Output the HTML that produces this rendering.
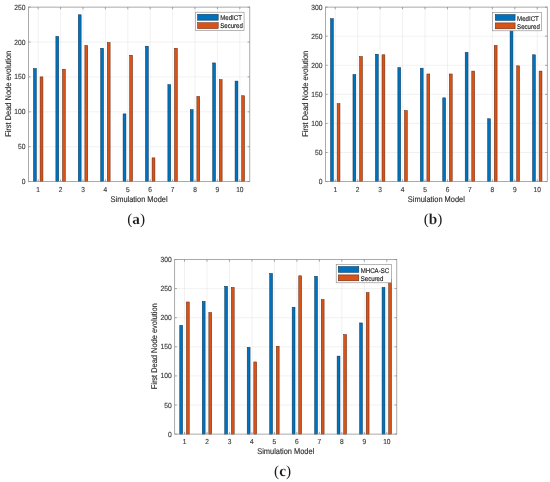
<!DOCTYPE html>
<html lang="en">
<head>
<meta charset="utf-8">
<title>First Dead Node evolution</title>
<style>
html,body{margin:0;padding:0;background:#fff;}
body{width:550px;height:482px;overflow:hidden;}
svg{display:block;font-family:"Liberation Sans", Arial, Helvetica, sans-serif;text-rendering:geometricPrecision;}
</style>
</head>
<body>
<svg width="550" height="482" viewBox="0 0 550 482">
<rect width="550" height="482" fill="#fff"/>
<g stroke="#e7e7e7" stroke-width="0.6"><line x1="38.2" y1="7.1" x2="38.2" y2="181.6"/><line x1="60.6" y1="7.1" x2="60.6" y2="181.6"/><line x1="83" y1="7.1" x2="83" y2="181.6"/><line x1="105.4" y1="7.1" x2="105.4" y2="181.6"/><line x1="127.8" y1="7.1" x2="127.8" y2="181.6"/><line x1="150.2" y1="7.1" x2="150.2" y2="181.6"/><line x1="172.6" y1="7.1" x2="172.6" y2="181.6"/><line x1="195" y1="7.1" x2="195" y2="181.6"/><line x1="217.4" y1="7.1" x2="217.4" y2="181.6"/><line x1="239.8" y1="7.1" x2="239.8" y2="181.6"/><line x1="28.4" y1="146.7" x2="249.8" y2="146.7"/><line x1="28.4" y1="111.8" x2="249.8" y2="111.8"/><line x1="28.4" y1="76.9" x2="249.8" y2="76.9"/><line x1="28.4" y1="42" x2="249.8" y2="42"/></g>
<g fill="#0072BD" stroke="#083050" stroke-width="0.5"><rect x="33.48" y="68.52" width="2.85" height="113.08"/><rect x="55.88" y="36.42" width="2.85" height="145.18"/><rect x="78.28" y="14.78" width="2.85" height="166.82"/><rect x="100.67" y="48.28" width="2.85" height="133.32"/><rect x="123.08" y="113.89" width="2.85" height="67.71"/><rect x="145.47" y="46.19" width="2.85" height="135.41"/><rect x="167.87" y="84.58" width="2.85" height="97.02"/><rect x="190.27" y="109.71" width="2.85" height="71.89"/><rect x="212.67" y="62.94" width="2.85" height="118.66"/><rect x="235.07" y="81.09" width="2.85" height="100.51"/></g>
<g fill="#D95319" stroke="#5c230a" stroke-width="0.5"><rect x="40.08" y="76.9" width="2.85" height="104.7"/><rect x="62.48" y="69.22" width="2.85" height="112.38"/><rect x="84.88" y="45.49" width="2.85" height="136.11"/><rect x="107.27" y="42.7" width="2.85" height="138.9"/><rect x="129.67" y="55.26" width="2.85" height="126.34"/><rect x="152.07" y="157.87" width="2.85" height="23.73"/><rect x="174.47" y="48.28" width="2.85" height="133.32"/><rect x="196.88" y="96.44" width="2.85" height="85.16"/><rect x="219.27" y="79.69" width="2.85" height="101.91"/><rect x="241.68" y="95.75" width="2.85" height="85.85"/></g>
<g stroke="#707070" stroke-width="0.6"><line x1="38.2" y1="181.6" x2="38.2" y2="179.4"/><line x1="38.2" y1="7.1" x2="38.2" y2="9.3"/><line x1="60.6" y1="181.6" x2="60.6" y2="179.4"/><line x1="60.6" y1="7.1" x2="60.6" y2="9.3"/><line x1="83" y1="181.6" x2="83" y2="179.4"/><line x1="83" y1="7.1" x2="83" y2="9.3"/><line x1="105.4" y1="181.6" x2="105.4" y2="179.4"/><line x1="105.4" y1="7.1" x2="105.4" y2="9.3"/><line x1="127.8" y1="181.6" x2="127.8" y2="179.4"/><line x1="127.8" y1="7.1" x2="127.8" y2="9.3"/><line x1="150.2" y1="181.6" x2="150.2" y2="179.4"/><line x1="150.2" y1="7.1" x2="150.2" y2="9.3"/><line x1="172.6" y1="181.6" x2="172.6" y2="179.4"/><line x1="172.6" y1="7.1" x2="172.6" y2="9.3"/><line x1="195" y1="181.6" x2="195" y2="179.4"/><line x1="195" y1="7.1" x2="195" y2="9.3"/><line x1="217.4" y1="181.6" x2="217.4" y2="179.4"/><line x1="217.4" y1="7.1" x2="217.4" y2="9.3"/><line x1="239.8" y1="181.6" x2="239.8" y2="179.4"/><line x1="239.8" y1="7.1" x2="239.8" y2="9.3"/><line x1="28.4" y1="181.6" x2="30.6" y2="181.6"/><line x1="249.8" y1="181.6" x2="247.6" y2="181.6"/><line x1="28.4" y1="146.7" x2="30.6" y2="146.7"/><line x1="249.8" y1="146.7" x2="247.6" y2="146.7"/><line x1="28.4" y1="111.8" x2="30.6" y2="111.8"/><line x1="249.8" y1="111.8" x2="247.6" y2="111.8"/><line x1="28.4" y1="76.9" x2="30.6" y2="76.9"/><line x1="249.8" y1="76.9" x2="247.6" y2="76.9"/><line x1="28.4" y1="42" x2="30.6" y2="42"/><line x1="249.8" y1="42" x2="247.6" y2="42"/><line x1="28.4" y1="7.1" x2="30.6" y2="7.1"/><line x1="249.8" y1="7.1" x2="247.6" y2="7.1"/></g><g stroke="#868686" stroke-width="0.7"><rect x="28.4" y="7.1" width="221.4" height="174.5" fill="none"/></g>
<text transform="translate(38.2 191.6) scale(0.9 1)" text-anchor="middle" font-size="7.33" fill="#3a3a3a" stroke="#3a3a3a" stroke-width="0.15">1</text><text transform="translate(60.6 191.6) scale(0.9 1)" text-anchor="middle" font-size="7.33" fill="#3a3a3a" stroke="#3a3a3a" stroke-width="0.15">2</text><text transform="translate(83 191.6) scale(0.9 1)" text-anchor="middle" font-size="7.33" fill="#3a3a3a" stroke="#3a3a3a" stroke-width="0.15">3</text><text transform="translate(105.4 191.6) scale(0.9 1)" text-anchor="middle" font-size="7.33" fill="#3a3a3a" stroke="#3a3a3a" stroke-width="0.15">4</text><text transform="translate(127.8 191.6) scale(0.9 1)" text-anchor="middle" font-size="7.33" fill="#3a3a3a" stroke="#3a3a3a" stroke-width="0.15">5</text><text transform="translate(150.2 191.6) scale(0.9 1)" text-anchor="middle" font-size="7.33" fill="#3a3a3a" stroke="#3a3a3a" stroke-width="0.15">6</text><text transform="translate(172.6 191.6) scale(0.9 1)" text-anchor="middle" font-size="7.33" fill="#3a3a3a" stroke="#3a3a3a" stroke-width="0.15">7</text><text transform="translate(195 191.6) scale(0.9 1)" text-anchor="middle" font-size="7.33" fill="#3a3a3a" stroke="#3a3a3a" stroke-width="0.15">8</text><text transform="translate(217.4 191.6) scale(0.9 1)" text-anchor="middle" font-size="7.33" fill="#3a3a3a" stroke="#3a3a3a" stroke-width="0.15">9</text><text transform="translate(239.8 191.6) scale(0.9 1)" text-anchor="middle" font-size="7.33" fill="#3a3a3a" stroke="#3a3a3a" stroke-width="0.15">10</text><text transform="translate(25.4 184.15) scale(0.9 1)" text-anchor="end" font-size="7.44" fill="#3a3a3a" stroke="#3a3a3a" stroke-width="0.15">0</text><text transform="translate(25.4 149.25) scale(0.9 1)" text-anchor="end" font-size="7.44" fill="#3a3a3a" stroke="#3a3a3a" stroke-width="0.15">50</text><text transform="translate(25.4 114.35) scale(0.9 1)" text-anchor="end" font-size="7.44" fill="#3a3a3a" stroke="#3a3a3a" stroke-width="0.15">100</text><text transform="translate(25.4 79.45) scale(0.9 1)" text-anchor="end" font-size="7.44" fill="#3a3a3a" stroke="#3a3a3a" stroke-width="0.15">150</text><text transform="translate(25.4 44.55) scale(0.9 1)" text-anchor="end" font-size="7.44" fill="#3a3a3a" stroke="#3a3a3a" stroke-width="0.15">200</text><text transform="translate(25.4 9.65) scale(0.9 1)" text-anchor="end" font-size="7.44" fill="#3a3a3a" stroke="#3a3a3a" stroke-width="0.15">250</text>
<text transform="translate(139.1 201.7) scale(0.9 1)" text-anchor="middle" font-size="8.28" fill="#2e2e2e" stroke="#2e2e2e" stroke-width="0.15">Simulation Model</text>
<text transform="translate(10.7 93.85) rotate(-90) scale(0.9 1)" text-anchor="middle" font-size="8.28" fill="#2e2e2e" stroke="#2e2e2e" stroke-width="0.15">First Dead Node evolution</text>
<rect x="195.45" y="12.2" width="48.6" height="18.4" fill="#fff" stroke="#868686" stroke-width="0.6"/>
<rect x="197.6" y="14.3" width="20.6" height="5.9" fill="#0072BD" stroke="#0a2c47" stroke-width="0.5"/>
<rect x="197.6" y="22.7" width="20.6" height="5.9" fill="#D95319" stroke="#55200a" stroke-width="0.5"/>
<text transform="translate(220.2 20.3) scale(0.9 1)" font-size="6.78" fill="#222" stroke="#222" stroke-width="0.15">MedICT</text>
<text transform="translate(220.2 28.3) scale(0.9 1)" font-size="6.78" fill="#222" stroke="#222" stroke-width="0.15">Secured</text>
<text x="136.1" y="223.6" text-anchor="middle" font-family='"Liberation Serif", "Times New Roman", serif' font-size="15.3" fill="#1a1a1a">(<tspan font-weight="bold" stroke="#fff" stroke-width="0.14">a</tspan>)</text>
<g stroke="#e7e7e7" stroke-width="0.6"><line x1="335.25" y1="7.1" x2="335.25" y2="181.6"/><line x1="357.69" y1="7.1" x2="357.69" y2="181.6"/><line x1="380.14" y1="7.1" x2="380.14" y2="181.6"/><line x1="402.58" y1="7.1" x2="402.58" y2="181.6"/><line x1="425.03" y1="7.1" x2="425.03" y2="181.6"/><line x1="447.47" y1="7.1" x2="447.47" y2="181.6"/><line x1="469.92" y1="7.1" x2="469.92" y2="181.6"/><line x1="492.36" y1="7.1" x2="492.36" y2="181.6"/><line x1="514.81" y1="7.1" x2="514.81" y2="181.6"/><line x1="537.25" y1="7.1" x2="537.25" y2="181.6"/><line x1="325.45" y1="152.52" x2="547.25" y2="152.52"/><line x1="325.45" y1="123.43" x2="547.25" y2="123.43"/><line x1="325.45" y1="94.35" x2="547.25" y2="94.35"/><line x1="325.45" y1="65.27" x2="547.25" y2="65.27"/><line x1="325.45" y1="36.18" x2="547.25" y2="36.18"/></g>
<g fill="#0072BD" stroke="#083050" stroke-width="0.5"><rect x="330.52" y="18.73" width="2.85" height="162.87"/><rect x="352.97" y="74.57" width="2.85" height="107.03"/><rect x="375.41" y="54.22" width="2.85" height="127.38"/><rect x="397.86" y="67.59" width="2.85" height="114.01"/><rect x="420.3" y="68.17" width="2.85" height="113.42"/><rect x="442.75" y="97.84" width="2.85" height="83.76"/><rect x="465.19" y="52.47" width="2.85" height="129.13"/><rect x="487.64" y="118.78" width="2.85" height="62.82"/><rect x="510.08" y="29.2" width="2.85" height="152.4"/><rect x="532.53" y="54.8" width="2.85" height="126.8"/></g>
<g fill="#D95319" stroke="#5c230a" stroke-width="0.5"><rect x="337.12" y="103.66" width="2.85" height="77.94"/><rect x="359.57" y="56.54" width="2.85" height="125.06"/><rect x="382.01" y="54.8" width="2.85" height="126.8"/><rect x="404.46" y="110.64" width="2.85" height="70.96"/><rect x="426.9" y="73.99" width="2.85" height="107.61"/><rect x="449.35" y="73.99" width="2.85" height="107.61"/><rect x="471.79" y="71.08" width="2.85" height="110.52"/><rect x="494.24" y="45.49" width="2.85" height="136.11"/><rect x="516.68" y="65.85" width="2.85" height="115.75"/><rect x="539.12" y="71.08" width="2.85" height="110.52"/></g>
<g stroke="#707070" stroke-width="0.6"><line x1="335.25" y1="181.6" x2="335.25" y2="179.4"/><line x1="335.25" y1="7.1" x2="335.25" y2="9.3"/><line x1="357.69" y1="181.6" x2="357.69" y2="179.4"/><line x1="357.69" y1="7.1" x2="357.69" y2="9.3"/><line x1="380.14" y1="181.6" x2="380.14" y2="179.4"/><line x1="380.14" y1="7.1" x2="380.14" y2="9.3"/><line x1="402.58" y1="181.6" x2="402.58" y2="179.4"/><line x1="402.58" y1="7.1" x2="402.58" y2="9.3"/><line x1="425.03" y1="181.6" x2="425.03" y2="179.4"/><line x1="425.03" y1="7.1" x2="425.03" y2="9.3"/><line x1="447.47" y1="181.6" x2="447.47" y2="179.4"/><line x1="447.47" y1="7.1" x2="447.47" y2="9.3"/><line x1="469.92" y1="181.6" x2="469.92" y2="179.4"/><line x1="469.92" y1="7.1" x2="469.92" y2="9.3"/><line x1="492.36" y1="181.6" x2="492.36" y2="179.4"/><line x1="492.36" y1="7.1" x2="492.36" y2="9.3"/><line x1="514.81" y1="181.6" x2="514.81" y2="179.4"/><line x1="514.81" y1="7.1" x2="514.81" y2="9.3"/><line x1="537.25" y1="181.6" x2="537.25" y2="179.4"/><line x1="537.25" y1="7.1" x2="537.25" y2="9.3"/><line x1="325.45" y1="181.6" x2="327.65" y2="181.6"/><line x1="547.25" y1="181.6" x2="545.05" y2="181.6"/><line x1="325.45" y1="152.52" x2="327.65" y2="152.52"/><line x1="547.25" y1="152.52" x2="545.05" y2="152.52"/><line x1="325.45" y1="123.43" x2="327.65" y2="123.43"/><line x1="547.25" y1="123.43" x2="545.05" y2="123.43"/><line x1="325.45" y1="94.35" x2="327.65" y2="94.35"/><line x1="547.25" y1="94.35" x2="545.05" y2="94.35"/><line x1="325.45" y1="65.27" x2="327.65" y2="65.27"/><line x1="547.25" y1="65.27" x2="545.05" y2="65.27"/><line x1="325.45" y1="36.18" x2="327.65" y2="36.18"/><line x1="547.25" y1="36.18" x2="545.05" y2="36.18"/><line x1="325.45" y1="7.1" x2="327.65" y2="7.1"/><line x1="547.25" y1="7.1" x2="545.05" y2="7.1"/></g><g stroke="#868686" stroke-width="0.7"><rect x="325.45" y="7.1" width="221.8" height="174.5" fill="none"/></g>
<text transform="translate(335.25 191.6) scale(0.9 1)" text-anchor="middle" font-size="7.33" fill="#3a3a3a" stroke="#3a3a3a" stroke-width="0.15">1</text><text transform="translate(357.69 191.6) scale(0.9 1)" text-anchor="middle" font-size="7.33" fill="#3a3a3a" stroke="#3a3a3a" stroke-width="0.15">2</text><text transform="translate(380.14 191.6) scale(0.9 1)" text-anchor="middle" font-size="7.33" fill="#3a3a3a" stroke="#3a3a3a" stroke-width="0.15">3</text><text transform="translate(402.58 191.6) scale(0.9 1)" text-anchor="middle" font-size="7.33" fill="#3a3a3a" stroke="#3a3a3a" stroke-width="0.15">4</text><text transform="translate(425.03 191.6) scale(0.9 1)" text-anchor="middle" font-size="7.33" fill="#3a3a3a" stroke="#3a3a3a" stroke-width="0.15">5</text><text transform="translate(447.47 191.6) scale(0.9 1)" text-anchor="middle" font-size="7.33" fill="#3a3a3a" stroke="#3a3a3a" stroke-width="0.15">6</text><text transform="translate(469.92 191.6) scale(0.9 1)" text-anchor="middle" font-size="7.33" fill="#3a3a3a" stroke="#3a3a3a" stroke-width="0.15">7</text><text transform="translate(492.36 191.6) scale(0.9 1)" text-anchor="middle" font-size="7.33" fill="#3a3a3a" stroke="#3a3a3a" stroke-width="0.15">8</text><text transform="translate(514.81 191.6) scale(0.9 1)" text-anchor="middle" font-size="7.33" fill="#3a3a3a" stroke="#3a3a3a" stroke-width="0.15">9</text><text transform="translate(537.25 191.6) scale(0.9 1)" text-anchor="middle" font-size="7.33" fill="#3a3a3a" stroke="#3a3a3a" stroke-width="0.15">10</text><text transform="translate(322.45 184.15) scale(0.9 1)" text-anchor="end" font-size="7.44" fill="#3a3a3a" stroke="#3a3a3a" stroke-width="0.15">0</text><text transform="translate(322.45 155.07) scale(0.9 1)" text-anchor="end" font-size="7.44" fill="#3a3a3a" stroke="#3a3a3a" stroke-width="0.15">50</text><text transform="translate(322.45 125.98) scale(0.9 1)" text-anchor="end" font-size="7.44" fill="#3a3a3a" stroke="#3a3a3a" stroke-width="0.15">100</text><text transform="translate(322.45 96.9) scale(0.9 1)" text-anchor="end" font-size="7.44" fill="#3a3a3a" stroke="#3a3a3a" stroke-width="0.15">150</text><text transform="translate(322.45 67.82) scale(0.9 1)" text-anchor="end" font-size="7.44" fill="#3a3a3a" stroke="#3a3a3a" stroke-width="0.15">200</text><text transform="translate(322.45 38.73) scale(0.9 1)" text-anchor="end" font-size="7.44" fill="#3a3a3a" stroke="#3a3a3a" stroke-width="0.15">250</text><text transform="translate(322.45 9.65) scale(0.9 1)" text-anchor="end" font-size="7.44" fill="#3a3a3a" stroke="#3a3a3a" stroke-width="0.15">300</text>
<text transform="translate(436.35 201.7) scale(0.9 1)" text-anchor="middle" font-size="8.28" fill="#2e2e2e" stroke="#2e2e2e" stroke-width="0.15">Simulation Model</text>
<text transform="translate(307.7 93.85) rotate(-90) scale(0.9 1)" text-anchor="middle" font-size="8.28" fill="#2e2e2e" stroke="#2e2e2e" stroke-width="0.15">First Dead Node evolution</text>
<rect x="492.3" y="12.4" width="49.1" height="18.4" fill="#fff" stroke="#868686" stroke-width="0.6"/>
<rect x="495.3" y="14.5" width="19.8" height="5.9" fill="#0072BD" stroke="#0a2c47" stroke-width="0.5"/>
<rect x="495.3" y="22.9" width="19.8" height="5.9" fill="#D95319" stroke="#55200a" stroke-width="0.5"/>
<text transform="translate(517.1 20.5) scale(0.9 1)" font-size="6.78" fill="#222" stroke="#222" stroke-width="0.15">MedICT</text>
<text transform="translate(517.1 28.5) scale(0.9 1)" font-size="6.78" fill="#222" stroke="#222" stroke-width="0.15">Secured</text>
<text x="433" y="223.6" text-anchor="middle" font-family='"Liberation Serif", "Times New Roman", serif' font-size="15.3" fill="#1a1a1a">(<tspan font-weight="bold" stroke="#fff" stroke-width="0.14">b</tspan>)</text>
<g stroke="#e7e7e7" stroke-width="0.6"><line x1="184.5" y1="259.5" x2="184.5" y2="434.1"/><line x1="206.98" y1="259.5" x2="206.98" y2="434.1"/><line x1="229.46" y1="259.5" x2="229.46" y2="434.1"/><line x1="251.93" y1="259.5" x2="251.93" y2="434.1"/><line x1="274.41" y1="259.5" x2="274.41" y2="434.1"/><line x1="296.89" y1="259.5" x2="296.89" y2="434.1"/><line x1="319.37" y1="259.5" x2="319.37" y2="434.1"/><line x1="341.84" y1="259.5" x2="341.84" y2="434.1"/><line x1="364.32" y1="259.5" x2="364.32" y2="434.1"/><line x1="386.8" y1="259.5" x2="386.8" y2="434.1"/><line x1="174.7" y1="405" x2="396.8" y2="405"/><line x1="174.7" y1="375.9" x2="396.8" y2="375.9"/><line x1="174.7" y1="346.8" x2="396.8" y2="346.8"/><line x1="174.7" y1="317.7" x2="396.8" y2="317.7"/><line x1="174.7" y1="288.6" x2="396.8" y2="288.6"/></g>
<g fill="#0072BD" stroke="#083050" stroke-width="0.5"><rect x="179.77" y="325.27" width="2.85" height="108.83"/><rect x="202.25" y="301.4" width="2.85" height="132.7"/><rect x="224.73" y="286.27" width="2.85" height="147.83"/><rect x="247.21" y="347.38" width="2.85" height="86.72"/><rect x="269.69" y="273.47" width="2.85" height="160.63"/><rect x="292.16" y="307.22" width="2.85" height="126.88"/><rect x="314.64" y="276.38" width="2.85" height="157.72"/><rect x="337.12" y="356.11" width="2.85" height="77.99"/><rect x="359.6" y="322.94" width="2.85" height="111.16"/><rect x="382.07" y="287.44" width="2.85" height="146.66"/></g>
<g fill="#D95319" stroke="#5c230a" stroke-width="0.5"><rect x="186.38" y="301.99" width="2.85" height="132.11"/><rect x="208.85" y="312.46" width="2.85" height="121.64"/><rect x="231.33" y="287.44" width="2.85" height="146.66"/><rect x="253.81" y="361.93" width="2.85" height="72.17"/><rect x="276.29" y="346.22" width="2.85" height="87.88"/><rect x="298.76" y="275.8" width="2.85" height="158.3"/><rect x="321.24" y="299.66" width="2.85" height="134.44"/><rect x="343.72" y="334.58" width="2.85" height="99.52"/><rect x="366.2" y="292.67" width="2.85" height="141.43"/><rect x="388.67" y="279.29" width="2.85" height="154.81"/></g>
<g stroke="#707070" stroke-width="0.6"><line x1="184.5" y1="434.1" x2="184.5" y2="431.9"/><line x1="184.5" y1="259.5" x2="184.5" y2="261.7"/><line x1="206.98" y1="434.1" x2="206.98" y2="431.9"/><line x1="206.98" y1="259.5" x2="206.98" y2="261.7"/><line x1="229.46" y1="434.1" x2="229.46" y2="431.9"/><line x1="229.46" y1="259.5" x2="229.46" y2="261.7"/><line x1="251.93" y1="434.1" x2="251.93" y2="431.9"/><line x1="251.93" y1="259.5" x2="251.93" y2="261.7"/><line x1="274.41" y1="434.1" x2="274.41" y2="431.9"/><line x1="274.41" y1="259.5" x2="274.41" y2="261.7"/><line x1="296.89" y1="434.1" x2="296.89" y2="431.9"/><line x1="296.89" y1="259.5" x2="296.89" y2="261.7"/><line x1="319.37" y1="434.1" x2="319.37" y2="431.9"/><line x1="319.37" y1="259.5" x2="319.37" y2="261.7"/><line x1="341.84" y1="434.1" x2="341.84" y2="431.9"/><line x1="341.84" y1="259.5" x2="341.84" y2="261.7"/><line x1="364.32" y1="434.1" x2="364.32" y2="431.9"/><line x1="364.32" y1="259.5" x2="364.32" y2="261.7"/><line x1="386.8" y1="434.1" x2="386.8" y2="431.9"/><line x1="386.8" y1="259.5" x2="386.8" y2="261.7"/><line x1="174.7" y1="434.1" x2="176.9" y2="434.1"/><line x1="396.8" y1="434.1" x2="394.6" y2="434.1"/><line x1="174.7" y1="405" x2="176.9" y2="405"/><line x1="396.8" y1="405" x2="394.6" y2="405"/><line x1="174.7" y1="375.9" x2="176.9" y2="375.9"/><line x1="396.8" y1="375.9" x2="394.6" y2="375.9"/><line x1="174.7" y1="346.8" x2="176.9" y2="346.8"/><line x1="396.8" y1="346.8" x2="394.6" y2="346.8"/><line x1="174.7" y1="317.7" x2="176.9" y2="317.7"/><line x1="396.8" y1="317.7" x2="394.6" y2="317.7"/><line x1="174.7" y1="288.6" x2="176.9" y2="288.6"/><line x1="396.8" y1="288.6" x2="394.6" y2="288.6"/><line x1="174.7" y1="259.5" x2="176.9" y2="259.5"/><line x1="396.8" y1="259.5" x2="394.6" y2="259.5"/></g><g stroke="#868686" stroke-width="0.7"><rect x="174.7" y="259.5" width="222.1" height="174.6" fill="none"/></g>
<text transform="translate(184.5 444.1) scale(0.9 1)" text-anchor="middle" font-size="7.33" fill="#3a3a3a" stroke="#3a3a3a" stroke-width="0.15">1</text><text transform="translate(206.98 444.1) scale(0.9 1)" text-anchor="middle" font-size="7.33" fill="#3a3a3a" stroke="#3a3a3a" stroke-width="0.15">2</text><text transform="translate(229.46 444.1) scale(0.9 1)" text-anchor="middle" font-size="7.33" fill="#3a3a3a" stroke="#3a3a3a" stroke-width="0.15">3</text><text transform="translate(251.93 444.1) scale(0.9 1)" text-anchor="middle" font-size="7.33" fill="#3a3a3a" stroke="#3a3a3a" stroke-width="0.15">4</text><text transform="translate(274.41 444.1) scale(0.9 1)" text-anchor="middle" font-size="7.33" fill="#3a3a3a" stroke="#3a3a3a" stroke-width="0.15">5</text><text transform="translate(296.89 444.1) scale(0.9 1)" text-anchor="middle" font-size="7.33" fill="#3a3a3a" stroke="#3a3a3a" stroke-width="0.15">6</text><text transform="translate(319.37 444.1) scale(0.9 1)" text-anchor="middle" font-size="7.33" fill="#3a3a3a" stroke="#3a3a3a" stroke-width="0.15">7</text><text transform="translate(341.84 444.1) scale(0.9 1)" text-anchor="middle" font-size="7.33" fill="#3a3a3a" stroke="#3a3a3a" stroke-width="0.15">8</text><text transform="translate(364.32 444.1) scale(0.9 1)" text-anchor="middle" font-size="7.33" fill="#3a3a3a" stroke="#3a3a3a" stroke-width="0.15">9</text><text transform="translate(386.8 444.1) scale(0.9 1)" text-anchor="middle" font-size="7.33" fill="#3a3a3a" stroke="#3a3a3a" stroke-width="0.15">10</text><text transform="translate(171.7 436.65) scale(0.9 1)" text-anchor="end" font-size="7.44" fill="#3a3a3a" stroke="#3a3a3a" stroke-width="0.15">0</text><text transform="translate(171.7 407.55) scale(0.9 1)" text-anchor="end" font-size="7.44" fill="#3a3a3a" stroke="#3a3a3a" stroke-width="0.15">50</text><text transform="translate(171.7 378.45) scale(0.9 1)" text-anchor="end" font-size="7.44" fill="#3a3a3a" stroke="#3a3a3a" stroke-width="0.15">100</text><text transform="translate(171.7 349.35) scale(0.9 1)" text-anchor="end" font-size="7.44" fill="#3a3a3a" stroke="#3a3a3a" stroke-width="0.15">150</text><text transform="translate(171.7 320.25) scale(0.9 1)" text-anchor="end" font-size="7.44" fill="#3a3a3a" stroke="#3a3a3a" stroke-width="0.15">200</text><text transform="translate(171.7 291.15) scale(0.9 1)" text-anchor="end" font-size="7.44" fill="#3a3a3a" stroke="#3a3a3a" stroke-width="0.15">250</text><text transform="translate(171.7 262.05) scale(0.9 1)" text-anchor="end" font-size="7.44" fill="#3a3a3a" stroke="#3a3a3a" stroke-width="0.15">300</text>
<text transform="translate(285.75 454.1) scale(0.9 1)" text-anchor="middle" font-size="8.28" fill="#2e2e2e" stroke="#2e2e2e" stroke-width="0.15">Simulation Model</text>
<text transform="translate(157.1 346.3) rotate(-90) scale(0.9 1)" text-anchor="middle" font-size="8.28" fill="#2e2e2e" stroke="#2e2e2e" stroke-width="0.15">First Dead Node evolution</text>
<rect x="336.2" y="264.4" width="55.2" height="18.4" fill="#fff" stroke="#868686" stroke-width="0.6"/>
<rect x="338.3" y="266.5" width="20.5" height="5.9" fill="#0072BD" stroke="#0a2c47" stroke-width="0.5"/>
<rect x="338.3" y="274.9" width="20.5" height="5.9" fill="#D95319" stroke="#55200a" stroke-width="0.5"/>
<text transform="translate(360.7 272.5) scale(0.9 1)" font-size="6.78" fill="#222" stroke="#222" stroke-width="0.15">MHCA-SC</text>
<text transform="translate(360.7 280.5) scale(0.9 1)" font-size="6.78" fill="#222" stroke="#222" stroke-width="0.15">Secured</text>
<text x="282.6" y="476.2" text-anchor="middle" font-family='"Liberation Serif", "Times New Roman", serif' font-size="15.3" fill="#1a1a1a">(<tspan font-weight="bold" stroke="#fff" stroke-width="0.14">c</tspan>)</text>
</svg>
</body>
</html>
